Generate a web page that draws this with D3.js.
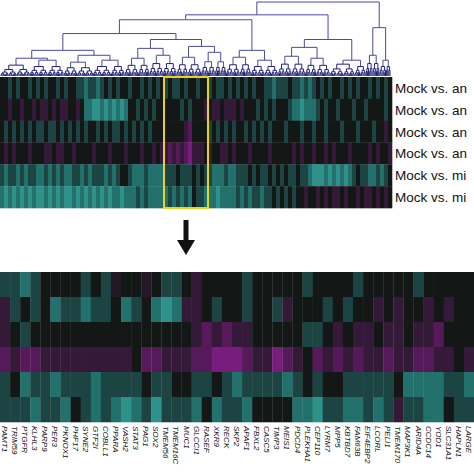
<!DOCTYPE html>
<html><head><meta charset="utf-8">
<script src="https://cdn.jsdelivr.net/npm/d3@7"></script>
<style>body{margin:0;background:#fff}svg{display:block}</style>
</head><body>
<script>
// ---- DATA ----
const topRowLabels = ["Mock vs. an","Mock vs. an","Mock vs. an","Mock vs. an","Mock vs. mi","Mock vs. mi"];
// expression levels per column, 0..8, 4 = no change (<4 down/magenta, >4 up/cyan)
const topRows = [
"4454544545"+"4544545445"+"5655654545"+"4454454545"+"4545545445"+"4454554545"+"4545445565"+"5545565654"+"5454454545"+"44545454",
"4434434434"+"3343433443"+"4667767676"+"7644545454"+"4444454544"+"4343343334"+"3444545454"+"4456676665"+"4544544454"+"45444454",
"4545454545"+"5455454545"+"4544545455"+"4545454544"+"4444443244"+"4454545454"+"4545454544"+"4544454454"+"4544454445"+"44454434",
"4343444344"+"4334334434"+"4443444344"+"4344434434"+"3323232133"+"3434433434"+"4434444344"+"4443434434"+"4343444344"+"44343443",
"5655656556"+"6565656655"+"6565556565"+"4456665666"+"6555455545"+"4556665665"+"5545455454"+"5455455677"+"7676767654"+"55665654",
"6767676767"+"7676767767"+"6767676766"+"7666565666"+"6656565645"+"5666766665"+"6565565545"+"4545443443"+"4343343443"+"43343434"
];
const genes = ["PAMT1","TRIM59","PTGFR","KLHL3","PARP9","PER3","PKNOX1","PHF17","SYNE2","GTF2I","COBLL1","PPARA","VASH2","STAT3","PAG1","SOX2","TMEM56","TMEM16C","MUC1","GLCCI1","RASEF","XKR9","RECK","SKP2","APAF1","FBXL2","CASC5","TIMP3","MEIS1","PDCD4","PLEKHA1","CEP110","LYRM7","MPP5","KBTBD7","FAM63B","EIF4EBP2","LCORL","PELI1","TMEM170","MAP3K1","ARID4A","CCDC14","YOD1","SLC31A1","HAPLN1","LARGE"];
const zoomRows = [
[5,5,6,5,4,4,4,4,5,4,5,3.5,4,4,3.5,4,5,5,4,3,4,4,4,4,5,4,4,4,4,4,5,4,4,4,4,5,4,4,4,4,4,5,4,4,4,4,4],
[3,5,4,5,4,6,5,5,6,5,5,4,6,5,4,6,7,6,3,3,4,5,4,4,5,4,4,5,3,4,4,4,5,4,5,4,4,3,4,3,4,4,3,4,3,4,4],
[3,4,5,4,4,4,4,4,4,4,4,4,4,4,4,4,4,4,4,3,2,3,2,3,3,4,4,4,4,4,5,5,4,3,4,3,3,4,3,3,4,3,3,2,4,4,4],
[2,3,2,2,3,3,3,3,3,3,3,3,3,4,2,2,3,3,3,2,2,1,1,1,2,3,3,1,2,3,4,2,3,2,3,2,3,3,2,3,3,2,2,3,3,4,3],
[5,4,6,5,5,6,5,5,5,6,5,5,5,5,4,5,5,4,4,5,5,4,5,6,5,5,5,5,6,5,4,5,4,4,5,5,5,5,5,4,6,6,6,6,5,5,6],
[5,5,5,6,5,5,6,4,5,6,5,6,7,6,5,7,5,5,5,6,4,6,5,5,6,4,4,4,4,6,6,7,5,5,6,6,5,6,5,3,5,5,6,6,4,5,5]
];
// dendrogram: [mergeHeight(px from top), left, right]; a number = bush of that many leaves
const tree = [1,
  [14,
    [19,
      [33,
        [50,
          [58,[65,14,12],[60,16,14]],
          [55,[62,12,14],[60,16,12]]],
        [39,[48,[58,12,10],[55,12,12]],[46,[57,10,12],[52,12,10]]]],
      [50,[57,12,10],[60,12,12]]],
    [39,[47,[56,12,12],[58,10,12]],[60,[64,12,10],10]]],
  [27,[55,6,6],[60,6,4]]];

// ---- DRAW ----
const W=474,H=474;
const svg=d3.select("body").append("svg").attr("width",W).attr("height",H);
const color=d3.scaleLinear().domain([0,2,4,6,8]).range(["#9a1ea2","#561a5a","#131716","#23716d","#38b0a6"]).clamp(true);

const hmX0=0,hmX1=392,hmY0=77,hmY1=208;
const nTop=topRows[0].length;
const xt=d3.scaleBand().domain(d3.range(nTop)).range([hmX0,hmX1]);
const yt=d3.scaleBand().domain(d3.range(6)).range([hmY0,hmY1]);
topRows.forEach((s,r)=>{
  svg.append("g").selectAll("rect").data(s.split("").map(Number)).join("rect")
   .attr("x",(d,i)=>xt(i)).attr("y",yt(r)).attr("width",xt.bandwidth()+0.3).attr("height",yt.bandwidth()+0.3)
   .attr("fill",d=>color(d));
});
svg.append("g").selectAll("text").data(topRowLabels).join("text")
  .attr("x",395).attr("y",(d,i)=>yt(i)+yt.bandwidth()/2+5)
  .attr("font-family","Liberation Sans, Arial, sans-serif").attr("font-size",13.5).attr("fill","#111").text(d=>d);

// dendrogram
function expand(node,parentY){
  if(typeof node==="number"){
    if(node===1) return {y:76,children:null};
    const h=parentY+(76-parentY)*0.4;
    const a=Math.ceil(node/2);
    return {y:h,children:[expand(a,h),expand(node-a,h)]};
  }
  return {y:node[0],children:[expand(node[1],node[0]),expand(node[2],node[0])]};
}
const root=d3.hierarchy(expand(tree,0),d=>d.children);
const leaves=root.leaves();
const xl=d3.scalePoint().domain(d3.range(leaves.length)).range([1,390]);
leaves.forEach((l,i)=>l.px=xl(i));
root.eachAfter(n=>{ if(n.children) n.px=d3.mean(n.children,c=>c.px); });
const yd=d3.scaleLinear().domain([0,76]).range([1,76]);
const dg=svg.append("g").attr("fill","none").attr("stroke-width",1);
root.descendants().forEach(n=>{
  if(!n.children) return;
  const y=yd(n.data.y);
  dg.append("path").attr("d",`M${n.children[0].px},${yd(n.children[0].data.y)}V${y}H${n.children[1].px}V${yd(n.children[1].data.y)}`)
    .attr("stroke",n.data.y>62?"#22227a":"#4a4a9e");
});

// yellow box
svg.append("rect").attr("x",xt(41)).attr("y",hmY0).attr("width",xt(52)-xt(41)).attr("height",hmY1-hmY0)
  .attr("fill","none").attr("stroke","#e8d21a").attr("stroke-width",2);
// arrow
const ax=(xt(41)+xt(52))/2;
svg.append("rect").attr("x",ax-2.5).attr("y",220).attr("width",5).attr("height",22).attr("fill","#111");
svg.append("path").attr("d",`M${ax-9},240H${ax+9}L${ax},255Z`).attr("fill","#111");

// zoomed heatmap
const xz=d3.scaleBand().domain(genes).range([0,474]);
const yz=d3.scaleBand().domain(d3.range(6)).range([272,422]);
zoomRows.forEach((row,r)=>{
  svg.append("g").selectAll("rect").data(row).join("rect")
   .attr("x",(d,i)=>xz(genes[i])).attr("y",yz(r)).attr("width",xz.bandwidth()+0.3).attr("height",yz.bandwidth()+0.3)
   .attr("fill",d=>color(d));
});
svg.append("g").selectAll("text").data(genes).join("text")
  .attr("transform",d=>`translate(${xz(d)+xz.bandwidth()/2-3},426) rotate(90)`)
  .attr("font-family","Liberation Sans, Arial, sans-serif").attr("font-size",8).attr("font-style","italic")
  .attr("fill","#111").text(d=>d);
</script>
</body></html>
